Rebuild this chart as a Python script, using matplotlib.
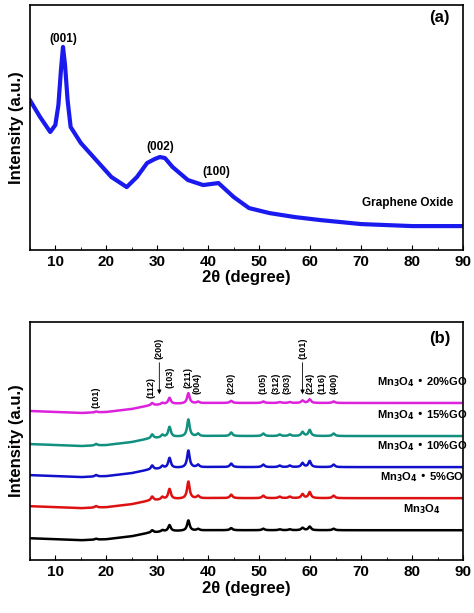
import matplotlib.pyplot as plt
import numpy as np

plt.rcParams['font.family'] = ['Liberation Sans', 'DejaVu Sans']
plt.rcParams['font.weight'] = 'bold'

# (a) graphene oxide
go_x = [5, 7, 9, 10, 10.6, 11.1, 11.5, 11.9, 12.4, 13, 15, 18, 21, 24, 26, 28, 29.5, 30.5, 31.5, 33, 36, 39, 42, 45, 48, 52, 57, 62, 70, 80, 90]
go_y = [150, 133, 118, 125, 145, 180, 203, 185, 150, 123, 107, 90, 73, 63, 73, 87, 91, 93, 92, 83, 70, 65, 67, 53, 42, 37, 33, 30, 26, 24, 24]

# (b) Mn3O4 samples: background anchors and peaks
bg_x = [5, 10, 15, 20, 25, 28, 32, 40, 50, 60, 70, 80, 90]
bg_shape = [2, 1, 0, 1, 4, 7, 9, 10, 10, 10, 10, 10, 10]
offsets = [20, 52, 83, 114, 147]
peak_pos = [18, 29, 31, 32.4, 36.1, 38, 44.5, 50.8, 54, 56, 58.5, 59.9, 64.6]
peak_h = [1.5, 4, 2.5, 10, 17, 2.5, 3.5, 2.5, 1.5, 1.5, 4, 6, 2.5]
scales = [0.6, 1.0, 1.0, 1.0, 0.6]
names = ['Mn$_3$O$_4$', 'Mn$_3$O$_4$ • 5%GO', 'Mn$_3$O$_4$ • 10%GO', 'Mn$_3$O$_4$ • 15%GO', 'Mn$_3$O$_4$ • 20%GO']
colors = ['black', '#dd1111', '#1111cc', '#119080', '#dd22dd']

hkl = ['(101)', '(112)', '(103)', '(211)', '(004)', '(220)', '(105)', '(312)', '(303)', '(224)', '(116)', '(400)']
hkl_x = [18, 28.8, 32.4, 36.1, 37.8, 44.5, 50.8, 53.2, 55.4, 59.9, 62.3, 64.6]
hkl_y = [152, 162, 172, 172, 166, 166, 166, 166, 166, 166, 166, 166]
arrow_lbl = ['(200)', '(101)']
arrow_x = [30.4, 58.5]

fig = plt.figure(figsize=(4.74, 6.13), dpi=100)
ax1 = fig.add_axes([0.063, 0.592, 0.914, 0.40])
ax2 = fig.add_axes([0.063, 0.086, 0.914, 0.389])

ax1.plot(go_x, go_y, color='#1a1aee', lw=3)
ax1.text(11.5, 208, '(001)', ha='center', fontsize=8.5, fontweight='bold')
ax1.text(30.5, 100, '(002)', ha='center', fontsize=8.5, fontweight='bold')
ax1.text(41.5, 75, '(100)', ha='center', fontsize=8.5, fontweight='bold')
ax1.text(88, 44, 'Graphene Oxide', ha='right', fontsize=8.5, fontweight='bold')
ax1.text(0.97, 0.93, '(a)', transform=ax1.transAxes, ha='right', fontsize=12, fontweight='bold')
ax1.set_ylim(0, 245)

x = np.linspace(5, 90, 3000)
for off, sc, name, c in zip(offsets, scales, names, colors):
    y = off + np.interp(x, bg_x, bg_shape)
    for p, h in zip(peak_pos, peak_h):
        y += sc * h / (1 + ((x - p) / 0.3) ** 2)
    ax2.plot(x, y, color=c, lw=1.8)
    ax2.text(82, off + 28, name, ha='center', fontsize=8, fontweight='bold')
for lbl, px, py in zip(hkl, hkl_x, hkl_y):
    ax2.text(px, py, lbl, rotation=90, ha='center', va='bottom', fontsize=6.5)
for lbl, px in zip(arrow_lbl, arrow_x):
    ax2.annotate('', xy=(px, 163), xytext=(px, 200), arrowprops=dict(arrowstyle='-|>', color='k', lw=0.6, mutation_scale=6))
    ax2.text(px, 201, lbl, rotation=90, ha='center', va='bottom', fontsize=6.5)
ax2.text(0.97, 0.91, '(b)', transform=ax2.transAxes, ha='right', fontsize=12, fontweight='bold')
ax2.set_ylim(0, 238)

for ax in (ax1, ax2):
    ax.set_xlim(5, 90)
    ax.set_yticks([])
    ax.set_xticks(range(10, 91, 10))
    ax.set_xticks(range(5, 91, 5), minor=True)
    ax.tick_params(axis='x', which='both', direction='in', labelsize=11)
    ax.set_ylabel('Intensity (a.u.)', fontsize=12, fontweight='bold')
    ax.set_xlabel('2θ (degree)', fontsize=12, fontweight='bold', labelpad=1)
    for s in ax.spines.values():
        s.set_linewidth(1.2)

fig.savefig('out.png', dpi=100)
